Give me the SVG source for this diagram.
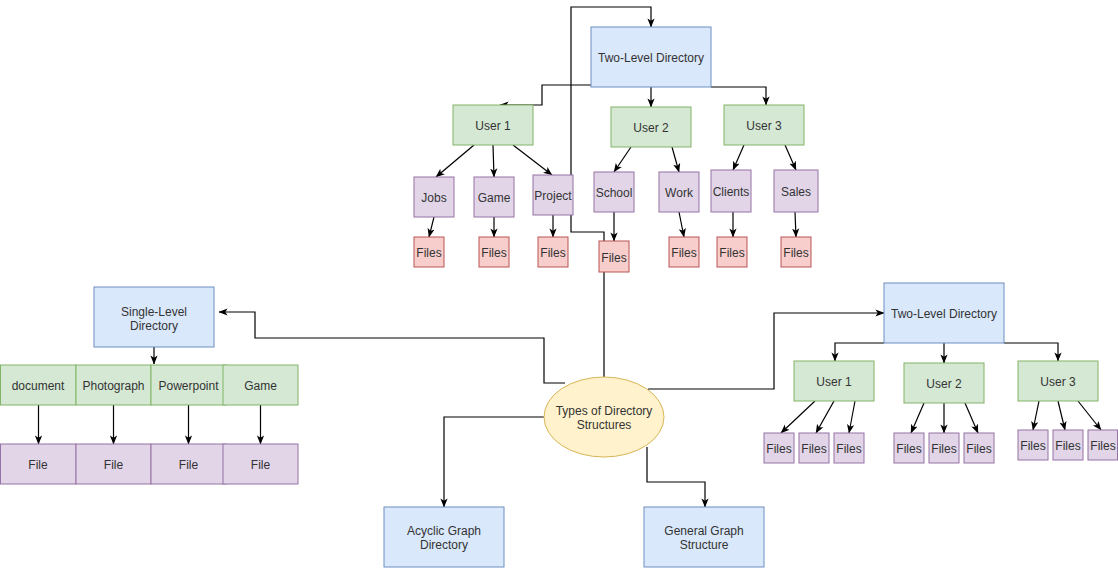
<svg xmlns="http://www.w3.org/2000/svg" width="1118" height="568" viewBox="0 0 1118 568">
<style>
text{font-family:"Liberation Sans",Arial,Helvetica,sans-serif;font-size:12px;fill:#333;text-anchor:middle;dominant-baseline:central}
.b{fill:#dae8fc;stroke:#6c8ebf}
.g{fill:#d5e8d4;stroke:#82b366}
.p{fill:#e1d5e7;stroke:#9673a6}
.r{fill:#f8cecc;stroke:#b85450}
.y{fill:#fff2cc;stroke:#d6b656}
.e{fill:none;stroke:#000;stroke-width:1.2;marker-end:url(#arr)}
</style>
<defs>
<marker id="arr" viewBox="0 0 10 10" refX="9.5" refY="5" markerWidth="9" markerHeight="9" markerUnits="userSpaceOnUse" orient="auto">
<path d="M0,1 L10,5 L0,9 L2.5,5 Z" fill="#000"/>
</marker>
</defs>
<rect width="1118" height="568" fill="#fff"/>
<g id="connectors">
<path class="e" d="M604,377 V232 H571 V7 H651 V27"/>
<path class="e" d="M591,85 H542 V105 H500"/>
<path class="e" d="M651,87 V107"/>
<path class="e" d="M711,87 H766 V105"/>
<path class="e" d="M474,145 L436,177"/>
<path class="e" d="M493,145 L494,177"/>
<path class="e" d="M513,145 L552,175"/>
<path class="e" d="M631,147 L614,172"/>
<path class="e" d="M672,147 L679,172"/>
<path class="e" d="M744,145 L733,170"/>
<path class="e" d="M785,145 L796,170"/>
<path class="e" d="M434,217 L429,237"/>
<path class="e" d="M494,217 V237"/>
<path class="e" d="M553,215 V237"/>
<path class="e" d="M614,212 V241"/>
<path class="e" d="M679,212 L684,237"/>
<path class="e" d="M733,212 V237"/>
<path class="e" d="M795,212 L796,237"/>
<path class="e" d="M565,383 H544 V338 H255 V312 H219"/>
<path class="e" d="M154,347 V364"/>
<path class="e" d="M38.5,405 V444"/>
<path class="e" d="M113.5,405 V444"/>
<path class="e" d="M188.5,405 V444"/>
<path class="e" d="M260.5,405 V444"/>
<path class="e" d="M648,389 H774 V313 H884"/>
<path class="e" d="M884,343 H835 V361"/>
<path class="e" d="M944,343 V363"/>
<path class="e" d="M1004,343 H1058 V361"/>
<path class="e" d="M815,401 L781,433"/>
<path class="e" d="M834,401 L816,433"/>
<path class="e" d="M855,401 L849,433"/>
<path class="e" d="M924,403 L911,433"/>
<path class="e" d="M944,403 V433"/>
<path class="e" d="M965,403 L978,433"/>
<path class="e" d="M1039,401 L1033,430"/>
<path class="e" d="M1058,401 L1065,430"/>
<path class="e" d="M1078,401 L1101,430"/>
<path class="e" d="M544,417 H444 V507"/>
<path class="e" d="M647,447 V482 H705 V507"/>
</g>
<g id="two-level-top"><rect class="b" x="591" y="27" width="120" height="60"/><text x="651" y="58">Two-Level Directory</text></g>
<g id="t-user1"><rect class="g" x="453" y="105" width="80" height="40"/><text x="493" y="126">User 1</text></g>
<g id="t-user2"><rect class="g" x="611" y="107" width="80" height="40"/><text x="651" y="128">User 2</text></g>
<g id="t-user3"><rect class="g" x="724" y="105" width="80" height="40"/><text x="764" y="126">User 3</text></g>
<g id="jobs"><rect class="p" x="414" y="177" width="40" height="40"/><text x="434" y="198">Jobs</text></g>
<g id="game-top"><rect class="p" x="474" y="177" width="40" height="40"/><text x="494" y="198">Game</text></g>
<g id="project"><rect class="p" x="533" y="175" width="40" height="40"/><text x="553" y="196">Project</text></g>
<g id="school"><rect class="p" x="594" y="172" width="40" height="40"/><text x="614" y="193">School</text></g>
<g id="work"><rect class="p" x="659" y="172" width="40" height="40"/><text x="679" y="193">Work</text></g>
<g id="clients"><rect class="p" x="711" y="170" width="40" height="42"/><text x="731" y="192">Clients</text></g>
<g id="sales"><rect class="p" x="774" y="170" width="44" height="42"/><text x="796" y="192">Sales</text></g>
<g id="files-jobs"><rect class="r" x="414" y="237" width="30" height="30"/><text x="429" y="253">Files</text></g>
<g id="files-game"><rect class="r" x="479" y="237" width="30" height="30"/><text x="494" y="253">Files</text></g>
<g id="files-project"><rect class="r" x="538" y="237" width="30" height="30"/><text x="553" y="253">Files</text></g>
<g id="files-school"><rect class="r" x="599" y="241" width="30" height="31"/><text x="614" y="258">Files</text></g>
<g id="files-work"><rect class="r" x="669" y="237" width="30" height="30"/><text x="684" y="253">Files</text></g>
<g id="files-clients"><rect class="r" x="717" y="237" width="30" height="30"/><text x="732" y="253">Files</text></g>
<g id="files-sales"><rect class="r" x="781" y="237" width="30" height="30"/><text x="796" y="253">Files</text></g>
<g id="single-level"><rect class="b" x="94" y="287" width="120" height="60"/><text x="154" y="312">Single-Level</text><text x="154" y="326">Directory</text></g>
<g id="document"><rect class="g" x="0.5" y="365" width="75.5" height="40"/><text x="38" y="386">document</text></g>
<g id="photograph"><rect class="g" x="76" y="365" width="75" height="40"/><text x="113.5" y="386">Photograph</text></g>
<g id="powerpoint"><rect class="g" x="151" y="365" width="75" height="40"/><text x="188.5" y="386">Powerpoint</text></g>
<g id="game-left"><rect class="g" x="223" y="365" width="75" height="40"/><text x="260.5" y="386">Game</text></g>
<g id="file1"><rect class="p" x="0.5" y="444" width="75.5" height="40"/><text x="38" y="465">File</text></g>
<g id="file2"><rect class="p" x="76" y="444" width="75" height="40"/><text x="113.5" y="465">File</text></g>
<g id="file3"><rect class="p" x="151" y="444" width="75" height="40"/><text x="188.5" y="465">File</text></g>
<g id="file4"><rect class="p" x="223" y="444" width="75" height="40"/><text x="260.5" y="465">File</text></g>
<g id="types"><ellipse class="y" cx="604" cy="417" rx="60" ry="40"/><text x="604" y="411">Types of Directory</text><text x="604" y="425">Structures</text></g>
<g id="two-level-right"><rect class="b" x="884" y="283" width="120" height="60"/><text x="944" y="314">Two-Level Directory</text></g>
<g id="r-user1"><rect class="g" x="794" y="361" width="80" height="40"/><text x="834" y="382">User 1</text></g>
<g id="r-user2"><rect class="g" x="904" y="363" width="80" height="40"/><text x="944" y="384">User 2</text></g>
<g id="r-user3"><rect class="g" x="1018" y="361" width="80" height="40"/><text x="1058" y="382">User 3</text></g>
<g id="rf1"><rect class="p" x="764" y="433" width="30" height="30"/><text x="779" y="449">Files</text></g>
<g id="rf2"><rect class="p" x="799" y="433" width="30" height="30"/><text x="814" y="449">Files</text></g>
<g id="rf3"><rect class="p" x="834" y="433" width="30" height="30"/><text x="849" y="449">Files</text></g>
<g id="rf4"><rect class="p" x="894" y="433" width="30" height="30"/><text x="909" y="449">Files</text></g>
<g id="rf5"><rect class="p" x="929" y="433" width="30" height="30"/><text x="944" y="449">Files</text></g>
<g id="rf6"><rect class="p" x="964" y="433" width="30" height="30"/><text x="979" y="449">Files</text></g>
<g id="rf7"><rect class="p" x="1018" y="430" width="30" height="30"/><text x="1033" y="446">Files</text></g>
<g id="rf8"><rect class="p" x="1053" y="430" width="30" height="30"/><text x="1068" y="446">Files</text></g>
<g id="rf9"><rect class="p" x="1088" y="430" width="29.5" height="30"/><text x="1103" y="446">Files</text></g>
<g id="acyclic"><rect class="b" x="384" y="507" width="120" height="60"/><text x="444" y="531">Acyclic Graph</text><text x="444" y="545">Directory</text></g>
<g id="general"><rect class="b" x="644" y="507" width="120" height="60"/><text x="704" y="531">General Graph</text><text x="704" y="545">Structure</text></g>
</svg>
